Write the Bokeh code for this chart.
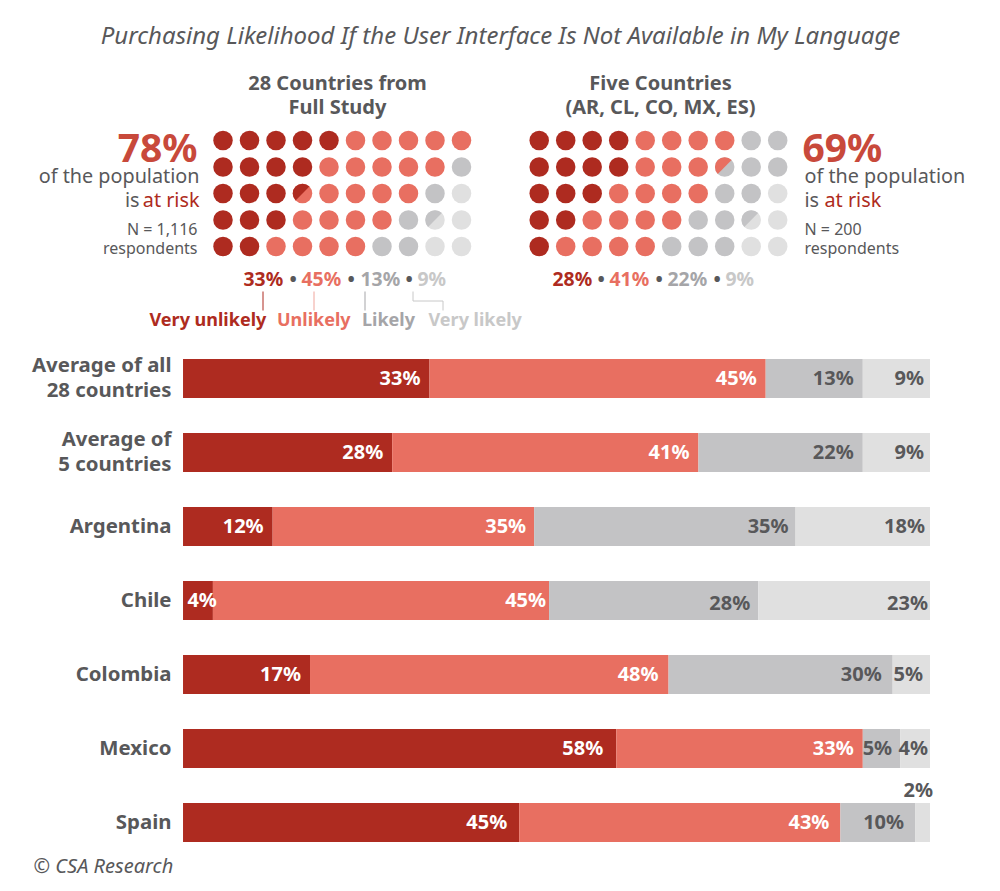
from math import radians

from bokeh.core.properties import value
from bokeh.embed import file_html
from bokeh.layouts import column
from bokeh.models import ColumnDataSource, FactorRange, Label, LabelSet, Range1d
from bokeh.plotting import figure
from bokeh.resources import INLINE
from bokeh.transform import dodge

# chart values
categories = ["Average of all\n28 countries", "Average of\n5 countries", "Argentina", "Chile",
              "Colombia", "Mexico", "Spain"]
very_unlikely = [33, 28, 12, 4, 17, 58, 45]
unlikely = [45, 41, 35, 45, 48, 33, 43]
likely = [13, 22, 35, 28, 30, 5, 10]
very_likely = [9, 9, 18, 23, 5, 4, 2]

# waffle cells, 0 = very unlikely ... 3 = very likely, None = split dot
left_rows = [
    [0, 0, 0, 0, 0, 1, 1, 1, 1, 1],
    [0, 0, 0, 0, 1, 1, 1, 1, 1, 2],
    [0, 0, 0, None, 1, 1, 1, 1, 2, 3],
    [0, 0, 0, 1, 1, 1, 1, 2, None, 3],
    [0, 0, 1, 1, 1, 1, 2, 2, 3, 3],
]
right_rows = [
    [0, 0, 0, 0, 1, 1, 1, 1, 2, 2],
    [0, 0, 0, 0, 1, 1, 1, None, 2, 2],
    [0, 0, 0, 1, 1, 1, 1, 2, 2, 3],
    [0, 0, 1, 1, 1, 1, 2, 2, None, 3],
    [0, 1, 1, 1, 1, 2, 2, 2, 3, 3],
]
left_splits = [(2, 3, 0, 1), (3, 8, 2, 3)]
right_splits = [(1, 7, 1, 2), (3, 8, 2, 3)]

DARK = "#AE2B20"
RED = "#E86F61"
GRAY = "#C3C3C5"
LIGHT = "#E0E0E0"
TEXT = "#58585A"
BIG = "#C8493B"
MID_TEXT = "#A5A5A8"
LIGHT_TEXT = "#C8C8C8"
FONT = "Noto Sans"
colors = [DARK, RED, GRAY, LIGHT]

# top panel: data coordinates are page pixels
top = figure(width=1000, height=339, x_range=Range1d(0, 1000), y_range=Range1d(339, 0),
             output_backend="svg", toolbar_location=None, x_axis_location=None,
             y_axis_location=None, min_border=0, outline_line_color=None, frame_align=False)
top.grid.visible = False


def text(x, y, s, size, color=TEXT, bold=False, align="left", italic=False, target=top):
    style = "bold" if bold else ("italic" if italic else "normal")
    target.add_layout(Label(x=x, y=y, text=s, text_font=FONT, text_font_size=f"{size}px",
                            text_font_style=style, text_color=color, text_align=align,
                            text_baseline="middle"))


def waffle(rows, splits, x0, y0, step=26.5):
    xs, ys, cs = [], [], []
    for r, row in enumerate(rows):
        for c, cell in enumerate(row):
            if cell is not None:
                xs.append(x0 + c * step)
                ys.append(y0 + r * step)
                cs.append(colors[cell])
    top.scatter(xs, ys, size=19.5, color=cs, line_color=None)
    for r, c, first, second in splits:
        top.scatter([x0 + c * step], [y0 + r * step], size=19.5, color=colors[second], line_color=None)
        top.wedge([x0 + c * step], [y0 + r * step], radius=9.75, radius_units="screen",
                  start_angle=radians(45), end_angle=radians(225), color=colors[first], line_color=None)


waffle(left_rows, left_splits, 222.5, 140)
waffle(right_rows, right_splits, 538.7, 140)

text(500, 34, "Purchasing Likelihood If the User Interface Is Not Available in My Language", 24,
     align="center", italic=True)
text(337, 82, "28 Countries from", 20, bold=True, align="center")
text(337, 106, "Full Study", 20, bold=True, align="center")
text(660, 82, "Five Countries", 20, bold=True, align="center")
text(660, 106, "(AR, CL, CO, MX, ES)", 20, bold=True, align="center")

text(197, 146, "78%", 39, BIG, True, "right")
text(199, 175, "of the population", 19.8, align="right")
text(139, 199, "is", 19.8, align="right")
text(199, 199, "at risk", 19.8, DARK, align="right")
text(197, 228, "N = 1,116", 16, align="right")
text(197, 247, "respondents", 16, align="right")

text(802, 146, "69%", 39, BIG, True)
text(804, 175, "of the population", 19.8)
text(804, 199, "is", 19.8)
text(824, 199, "at risk", 19.8, DARK)
text(804, 228, "N = 200", 16)
text(804, 247, "respondents", 16)

for x, s, color in [(243, "33%", DARK), (289, "•", TEXT), (301, "45%", RED), (347, "•", TEXT),
                    (360, "13%", MID_TEXT), (405, "•", TEXT), (417, "9%", LIGHT_TEXT),
                    (552, "28%", DARK), (597, "•", TEXT), (609, "41%", RED), (655, "•", TEXT),
                    (667, "22%", MID_TEXT), (713, "•", TEXT), (725, "9%", LIGHT_TEXT)]:
    text(x, 278, s, 19.4, color, True)

for x, s, color in [(149, "Very unlikely", DARK), (276.5, "Unlikely", RED),
                    (361.5, "Likely", MID_TEXT), (428, "Very likely", LIGHT_TEXT)]:
    text(x, 318.5, s, 18, color, True)

top.multi_line([[262.5, 262.5], [313.5, 313.5], [364.5, 364.5], [412.5, 412.5, 442.5, 442.5]],
               [[291, 310], [291, 310], [291, 310], [291, 300.5, 300.5, 310]],
               line_color=[DARK, "#F0A59C", MID_TEXT, LIGHT_TEXT], line_width=1)

# stacked bars, the frame runs on past 100 so the outside labels are not clipped
series = [very_unlikely, unlikely, likely, very_likely]
names = ["vu", "u", "l", "vl"]
bar_source = ColumnDataSource(dict(cat=categories, vu=very_unlikely, u=unlikely, l=likely, vl=very_likely))

bars = figure(width=1000, height=518, x_range=Range1d(-0.07, 818 / 7.47 - 0.07),
              y_range=FactorRange(factors=categories[::-1], factor_padding=0, range_padding=0),
              output_backend="svg", toolbar_location=None, outline_line_color=None,
              min_border_left=182, min_border_right=0, min_border_top=0, min_border_bottom=0,
              frame_align=False)
# axis labels sit a touch above the bar centres in the reference
bars.hbar_stack(names, y=dodge("cat", -2 / 74, range=bars.y_range), height=39 / 74, color=colors,
                source=bar_source, line_color=None)

bars.grid.visible = False
bars.xaxis.visible = False
bars.yaxis.axis_line_color = None
bars.yaxis.major_tick_line_color = None
bars.yaxis.minor_tick_line_color = None
bars.yaxis.major_label_standoff = 5
bars.yaxis.major_label_text_font = FONT
bars.yaxis.major_label_text_font_size = "20.4px"
bars.yaxis.major_label_text_font_style = "bold"
bars.yaxis.major_label_text_color = TEXT
bars.yaxis.major_label_text_line_height = 0.92

# labels sit inside the segment's right end, a few need moving
nudges = {(0, 3): (3, 0), (1, 3): (3, 0), (2, 1): (1, 0), (2, 2): (2, 0), (2, 3): (4, 0),
          (3, 0): (13, 0), (3, 1): (6, 0), (3, 2): (1, -3), (3, 3): (7, -3),
          (4, 1): (-1, 0), (4, 2): (-2, 0), (4, 3): (2, 0),
          (5, 0): (-4, 0), (5, 2): (1, 0), (5, 3): (7, 0),
          (6, 0): (-3, 0), (6, 1): (-2, 0), (6, 2): (-2, 0), (6, 3): (12, 32)}
lx, ly, lt, lc, ldx, ldy = [], [], [], [], [], []
for i, cat in enumerate(categories):
    end = 0
    for j, values in enumerate(series):
        end += values[i]
        dx, dy = nudges.get((i, j), (0, 0))
        lx.append(end)
        ly.append(cat)
        lt.append(f"{values[i]}%")
        lc.append("white" if j < 2 else TEXT)
        ldx.append(dx - 9)
        ldy.append(dy - 1)

bars.add_layout(LabelSet(x="x", y="y", text="t", x_offset="dx", y_offset="dy", text_color="c",
                         text_align="right", text_baseline="middle", text_font=value(FONT),
                         text_font_size="20px", text_font_style="bold",
                         source=ColumnDataSource(dict(x=lx, y=ly, t=lt, c=lc, dx=ldx, dy=ldy))))

# source line, pulled up over the empty end of the bar panel
foot = figure(width=1000, height=42, x_range=Range1d(0, 1000), y_range=Range1d(889, 847),
              output_backend="svg", toolbar_location=None, x_axis_location=None,
              y_axis_location=None, min_border=0, outline_line_color=None, frame_align=False,
              background_fill_color=None, border_fill_color=None, margin=(-10, 0, 0, 0))
foot.grid.visible = False
text(33, 865, "© CSA Research", 20, italic=True, target=foot)

page = column(top, bars, foot, spacing=0)
open("out.html", "w").write(file_html(page, INLINE))
